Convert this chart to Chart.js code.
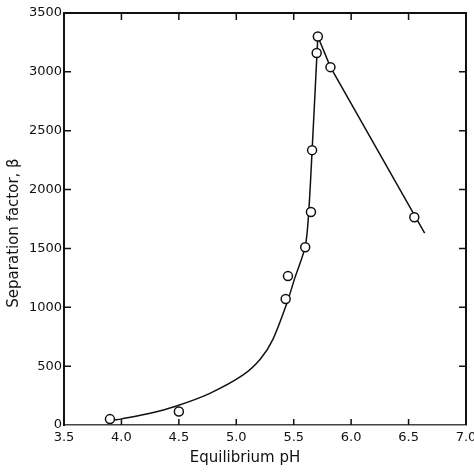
<!DOCTYPE html>
<html>
<head>
<meta charset="utf-8">
<script src="https://cdn.jsdelivr.net/npm/chart.js@4.4.1/dist/chart.umd.min.js"></script>
<style>
  html, body { margin: 0; padding: 0; background: #fff; }
</style>
</head>
<body>
<canvas id="myChart" width="474" height="474"></canvas>
<script>
// measured points
const phObs = [3.9, 4.5, 5.43, 5.45, 5.6, 5.65, 5.66, 5.7, 5.71, 5.82, 6.55];
const betaObs = [50, 115, 1070, 1265, 1510, 1810, 2335, 3160, 3300, 3040, 1765];

// drawn curve, rising branch
const phRise = [3.93, 4.0, 4.25, 4.48, 4.77, 5.06, 5.21, 5.32, 5.44, 5.51, 5.6, 5.63, 5.66, 5.71];
const betaRise = [40, 52, 100, 162, 269, 425, 560, 730, 1033, 1250, 1515, 1800, 2330, 3300];

// drawn curve, falling branch
const phFall = [5.71, 5.82, 6.64];
const betaFall = [3300, 3040, 1630];

const xTicks = [3.5, 4.0, 4.5, 5.0, 5.5, 6.0, 6.5, 7.0];
const yTicks = [0, 500, 1000, 1500, 2000, 2500, 3000, 3500];

const xTitle = 'Equilibrium pH';
const yTitle = 'Separation factor, β';

const ink = '#111';
const tickFont = { family: 'DejaVu Sans', size: 13 };

const toXY = (xs, ys) => xs.map((x, i) => ({ x: x, y: ys[i] }));

// box, inward ticks and axis titles
const frame = {
  id: 'frame',
  beforeDatasetsDraw(chart) {
    const { ctx, chartArea: a, scales } = chart;
    ctx.save();
    ctx.strokeStyle = ink;
    ctx.lineWidth = 1.5;
    ctx.beginPath();
    xTicks.slice(1, -1).forEach((v) => {
      const px = scales.x.getPixelForValue(v);
      ctx.moveTo(px, a.bottom);
      ctx.lineTo(px, a.bottom - 6);
      ctx.moveTo(px, a.top);
      ctx.lineTo(px, a.top + 7);
    });
    yTicks.slice(1, -1).forEach((v) => {
      const py = scales.y.getPixelForValue(v);
      ctx.moveTo(a.left, py);
      ctx.lineTo(a.left + 7, py);
      ctx.moveTo(a.right, py);
      ctx.lineTo(a.right - 7, py);
    });
    ctx.stroke();
    ctx.lineWidth = 2;
    ctx.beginPath();
    ctx.moveTo(a.left, a.top);
    ctx.lineTo(a.right, a.top);
    ctx.lineTo(a.right, a.bottom);
    ctx.stroke();
    ctx.restore();
  },
  afterDraw(chart) {
    const { ctx } = chart;
    ctx.save();
    ctx.fillStyle = ink;
    ctx.font = '15px "DejaVu Sans"';
    ctx.textAlign = 'center';
    ctx.textBaseline = 'middle';
    ctx.fillText(xTitle, 245, 458);
    ctx.translate(14, 233);
    ctx.rotate(-Math.PI / 2);
    ctx.fillText(yTitle, 0, 0);
    ctx.restore();
  },
};

const ctx = document.getElementById('myChart');
const myChart = new Chart(ctx, {
  type: 'scatter',
  data: {
    datasets: [
      {
        data: toXY(phObs, betaObs),
        showLine: false,
        pointRadius: 4.5,
        pointBorderWidth: 1.5,
        pointBackgroundColor: '#fff',
        pointBorderColor: ink,
        order: 0,
      },
      {
        data: toXY(phRise, betaRise),
        showLine: true,
        pointRadius: 0,
        borderColor: ink,
        borderWidth: 1.5,
        tension: 0.3,
        order: 1,
      },
      {
        data: toXY(phFall, betaFall),
        showLine: true,
        pointRadius: 0,
        borderColor: ink,
        borderWidth: 1.5,
        tension: 0,
        order: 1,
      },
    ],
  },
  options: {
    responsive: false,
    animation: false,
    layout: { padding: { left: 0, right: 8, top: 13, bottom: 0 } },
    plugins: {
      legend: { display: false },
      tooltip: { enabled: false },
    },
    scales: {
      x: {
        type: 'linear',
        min: 3.5,
        max: 7.0,
        afterBuildTicks: (s) => { s.ticks = xTicks.map((v) => ({ value: v })); },
        afterFit: (s) => { s.height = 49; s.paddingLeft = 0; s.paddingRight = 0; },
        ticks: {
          callback: (v) => v.toFixed(1),
          font: tickFont,
          color: ink,
          padding: 5,
          maxRotation: 0,
          autoSkip: false,
        },
        grid: { display: false, drawTicks: false },
        border: { display: true, color: '#444', width: 1.5 },
      },
      y: {
        min: 0,
        max: 3500,
        afterBuildTicks: (s) => { s.ticks = yTicks.map((v) => ({ value: v })); },
        afterFit: (s) => { s.width = 64; s.paddingTop = 0; s.paddingBottom = 0; },
        ticks: {
          callback: (v) => String(v),
          font: tickFont,
          color: ink,
          padding: 2,
          autoSkip: false,
        },
        grid: { display: false, drawTicks: false },
        border: { display: true, color: ink, width: 2 },
      },
    },
  },
  plugins: [frame],
});
</script>
</body>
</html>
